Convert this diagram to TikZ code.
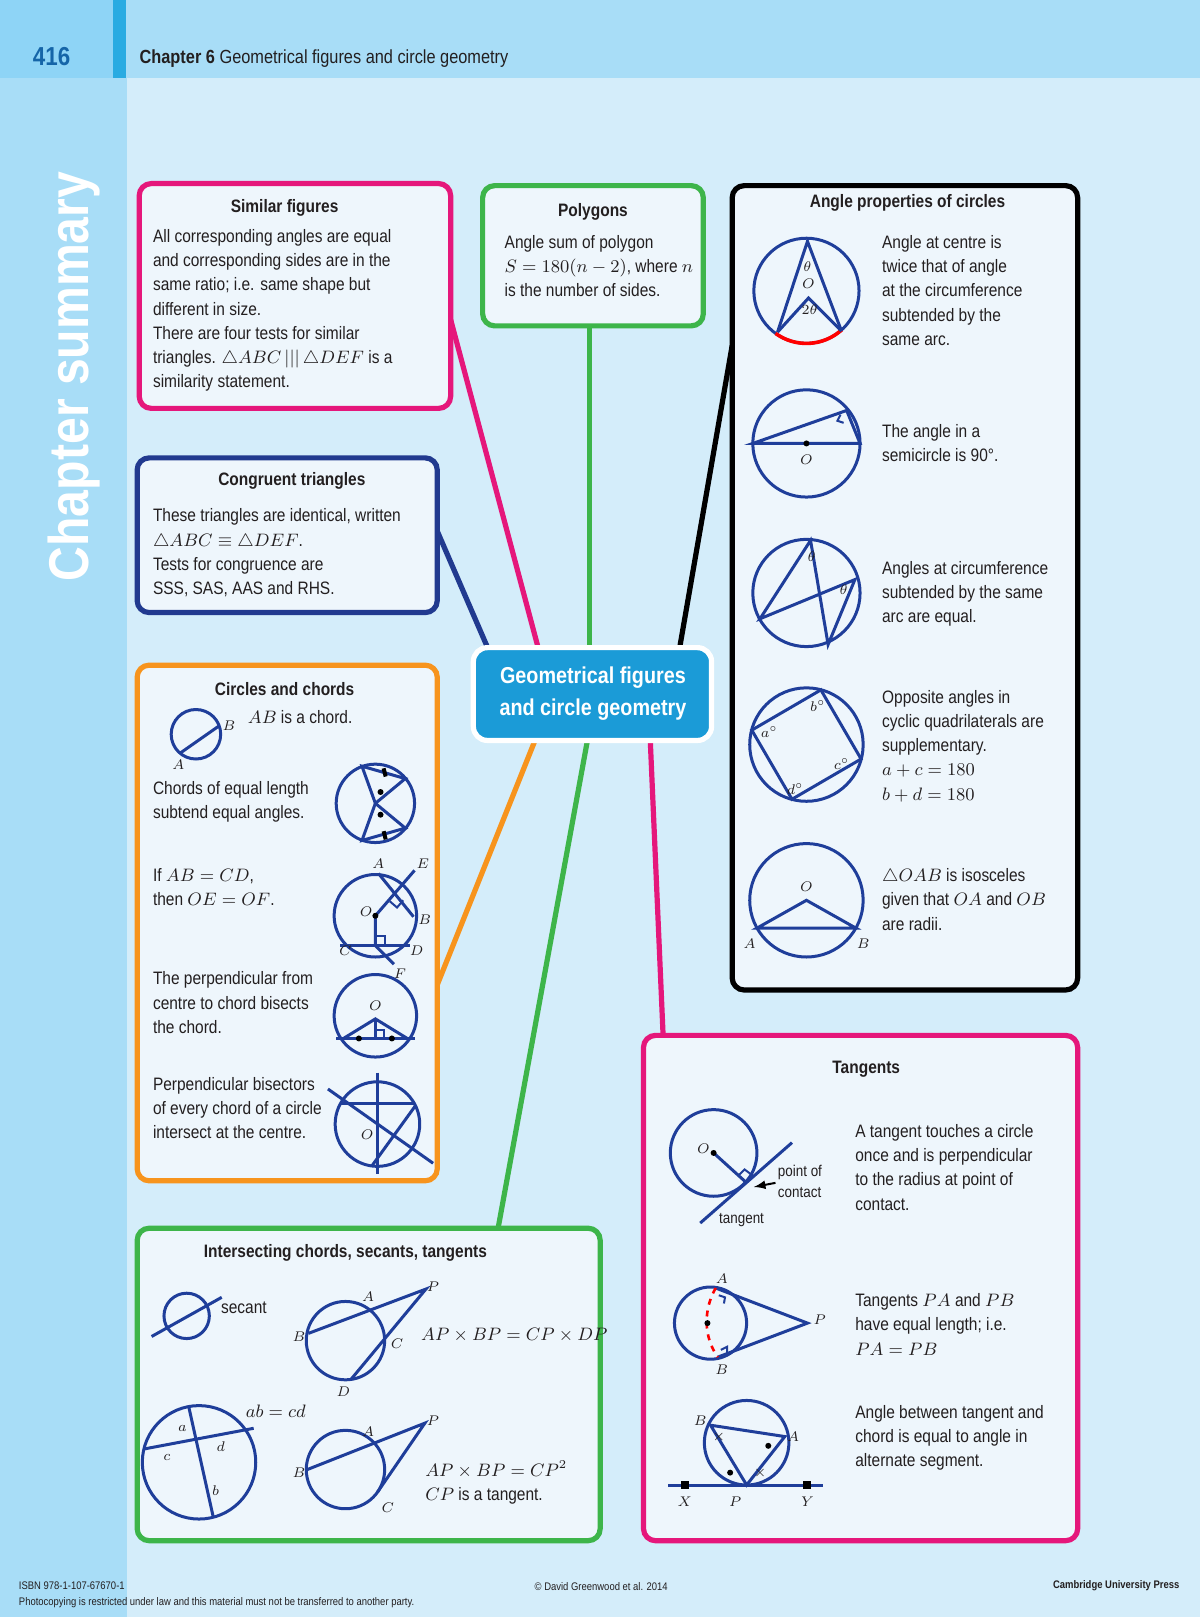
\documentclass[tikz,border=0pt]{standalone}
\usepackage{fontspec}
\setmainfont{Liberation Sans}[FakeStretch=0.86]
\usetikzlibrary{fit,calc}
\definecolor{bgc}{HTML}{D4EDFA}
\definecolor{strip}{HTML}{A8DDF7}
\definecolor{topblk}{HTML}{8ED4F6}
\definecolor{cyanl}{HTML}{29ABE2}
\definecolor{boxfill}{HTML}{EEF6FC}
\definecolor{pinkc}{HTML}{E5177B}
\definecolor{greenc}{HTML}{3DB54A}
\definecolor{orangec}{HTML}{F7941D}
\definecolor{navyc}{HTML}{213A8F}
\definecolor{geo}{HTML}{1F3E9A}
\definecolor{cenc}{HTML}{1B9BD7}
\definecolor{txtc}{HTML}{231F20}
\definecolor{numc}{HTML}{1565A8}
\newcommand\myfs{\fontsize{9}{12.1}\selectfont}
\newcommand\mylab{\fontsize{7}{8}\selectfont}
\begin{document}
\begin{tikzpicture}[x=0.5155pt,y=-0.5155pt,
  box/.style={draw=#1, line width=2.6pt, rounded corners=6pt, fill=boxfill, inner sep=0pt},
  conn/.style={draw=#1, line width=2.6pt},
  txt/.style={anchor=north west, inner sep=0pt, align=left, font=\myfs, text=txtc},
  ttl/.style={inner sep=0pt, font=\myfs\bfseries, text=txtc},
  g/.style={draw=geo, line width=1.5pt},
  lb/.style={inner sep=0pt, font=\mylab, text=txtc},
  dot/.style={fill=black, circle, inner sep=0pt, minimum size=3pt}]
\useasboundingbox (0,0) rectangle (1164,1568);
\fill[bgc] (0,0) rectangle (1164,1568);
\fill[strip] (0,0) rectangle (123,1568);
\fill[strip] (0,0) rectangle (1164,76);
\fill[topblk] (0,0) rectangle (110,76);
\fill[cyanl] (110,0) rectangle (122,76);
\node[font=\fontsize{13}{13}\selectfont\bfseries, text=numc] (pg) at (50,55) {416};
\node[anchor=west, inner sep=0, font=\fontsize{9.5}{10}\selectfont, text=txtc] (hd) at (135,57) {\textbf{Chapter 6} Geometrical figures and circle geometry};
\node[rotate=90, font=\fontsize{28}{28}\selectfont\bfseries, text=white] (cs) at (72,365) {Chapter summary};

% connector end points
\coordinate (e1) at (437,310); \coordinate (f1) at (525,640);
\coordinate (e2) at (572,316); \coordinate (f2) at (572,640);
\coordinate (e3) at (710,335); \coordinate (f3) at (657,640);
\coordinate (e4) at (424,515); \coordinate (f4) at (478,640);
\coordinate (e5) at (424,955); \coordinate (f5) at (524,705);
\coordinate (e6) at (483,1191); \coordinate (f6) at (572,705);
\coordinate (e7) at (643,1004); \coordinate (f7) at (630,705);
\draw[conn=pinkc] (e1) -- (f1);
\draw[conn=greenc] (e2) -- (f2);
\draw[conn=black] (e3) -- (f3);
\draw[conn=navyc] (e4) -- (f4);
\draw[conn=orangec] (e5) -- (f5);
\draw[conn=greenc] (e6) -- (f6);
\draw[conn=pinkc] (e7) -- (f7);

% boxes
\node[box=pinkc, fit={(135,178) (437,396)}] (sim) {};
\node[box=greenc, fit={(468,180) (682,316)}] (pol) {};
\node[box=black, fit={(710,180) (1045,960)}] (ang) {};
\node[box=navyc, fit={(133,444) (424,594)}] (con) {};
\node[box=orangec, fit={(133,645) (424,1145)}] (cir) {};
\node[box=greenc, fit={(133,1191) (582,1494)}] (ins) {};
\node[box=pinkc, fit={(624,1004) (1045,1494)}] (tan) {};
\node[draw=white, line width=2.6pt, rounded corners=7pt, fill=cenc, inner sep=0pt, fit={(459,628) (690,718)}] (cen) {};
\node[align=center, font=\fontsize{11.5}{16}\selectfont\bfseries, text=white] (cent) at (575,673) {Geometrical figures\\and circle geometry};

% Similar figures
\node[ttl] (t1) at (276,202) {Similar figures};
\node[txt] (s1) at (148,222) {All corresponding angles are equal\\and corresponding sides are in the\\same ratio; i.e. same shape but\\different in size.\\There are four tests for similar\\triangles. $\triangle ABC\,|||\,\triangle DEF$ is a\\similarity statement.};

% Polygons
\node[ttl] (t2) at (575,205) {Polygons};
\node[txt] (p1) at (489,228) {Angle sum of polygon\\$S = 180(n-2)$, where $n$\\is the number of sides.};

% Congruent
\node[ttl] (t3) at (283,466) {Congruent triangles};
\node[txt] (c1) at (148,493) {These triangles are identical, written\\$\triangle ABC \equiv \triangle DEF$.\\Tests for congruence are\\SSS, SAS, AAS and RHS.};

% Angle properties
\node[ttl] (t4) at (880,197) {Angle properties of circles};
\node[txt] (a1) at (855,228) {Angle at centre is\\twice that of angle\\at the circumference\\subtended by the\\same arc.};
\node[txt] (a2) at (855,411) {The angle in a\\semicircle is 90°.};
\node[txt] (a3) at (855,544) {Angles at circumference\\subtended by the same\\arc are equal.};
\node[txt] (a4) at (855,669) {Opposite angles in\\cyclic quadrilaterals are\\supplementary.\\$a+c=180$\\$b+d=180$};
\node[txt] (a5) at (855,842) {$\triangle OAB$ is isosceles\\given that $OA$ and $OB$\\are radii.};
% diagram 1
\draw[g] (782,282) circle (51);
\draw[draw=red, line width=1.8pt] (782,282) ++(48:51) arc (48:126:51);
\draw[g] (754,322) -- (783,234) -- (816,321);
\draw[g] (754,322) -- (784,289) -- (816,321);
\node[lb] (th1) at (783,259) {$\theta$};
\node[lb] (o1) at (784,275) {$O$};
\node[lb] (th2) at (785,300) {$2\theta$};
% diagram 2
\draw[g] (782,430) circle (52);
\draw[g] (730,430) -- (834,430) -- (821,398) -- cycle;
\draw[g, line width=1pt] (815,402) -- (812,408) -- (818,410);
\node[dot] (d2) at (782,430) {};
\node[lb] (o2) at (782,446) {$O$};
% diagram 3
\draw[g] (782,575) circle (52);
\draw[g] (737,600) -- (786,524) -- (803,625) -- (829,562) -- cycle;
\node[lb] (th3) at (787,540) {$\theta$};
\node[lb] (th4) at (818,572) {$\theta$};
% diagram 4
\draw[g] (782,722) circle (55);
\draw[g] (796,669) -- (729,708) -- (768,775) -- (835,736) -- cycle;
\node[lb] (qa) at (746,710) {$a^\circ$};
\node[lb] (qb) at (793,685) {$b^\circ$};
\node[lb] (qc) at (816,741) {$c^\circ$};
\node[lb] (qd) at (771,765) {$d^\circ$};
% diagram 5
\draw[g] (782,873) circle (55);
\draw[g] (734,900) -- (782,873) -- (830,900) -- cycle;
\node[lb] (o5) at (782,860) {$O$};
\node[lb] (A5) at (727,915) {$A$};
\node[lb] (B5) at (837,915) {$B$};

% Circles and chords
\node[ttl] (t5) at (276,668) {Circles and chords};
\draw[g] (190,712) circle (24);
\draw[g] (190,712) ++(130:24) -- ($(190,712)+(-20:24)$);
\node[lb] (Bc) at (222,704) {$B$};
\node[lb] (Ac) at (173,742) {$A$};
\node[txt] (cc1) at (240,689) {$AB$ is a chord.};
\node[txt] (cc2) at (148,757) {Chords of equal length\\subtend equal angles.};
\draw[g] (364,779) circle (38);
\draw[g] (351,743) -- (364,779) -- (393,755) -- cycle;
\draw[g] (393,803) -- (364,779) -- (351,815) -- cycle;
\draw[line width=2pt] (372,745) -- (374,753) (372,806) -- (374,814);
\node[dot] (c2a) at (369,768) {}; \node[dot] (c2b) at (369,790) {};
\node[txt] (cc3) at (148,842) {If $AB = CD$,\\then $OE = OF$.};
\draw[g] (364,888) circle (40);
\draw[g] (367,847) -- (401,889);
\draw[g] (330,917) -- (398,917);
\draw[g] (364,888) -- (402,844);
\draw[g] (364,888) -- (364,917) -- (382,935);
\draw[g,line width=1pt] (364,908) -- (373,908) -- (373,917);
\draw[g,line width=1pt] (378,874) -- (385,880) -- (391,873);
\node[dot] (O3) at (364,888) {};
\node[lb] (O3l) at (355,884) {$O$};
\node[lb] (A3) at (367,838) {$A$};
\node[lb] (E3) at (410,838) {$E$};
\node[lb] (B3) at (412,892) {$B$};
\node[lb] (C3) at (335,922) {$C$};
\node[lb] (D3) at (404,922) {$D$};
\node[lb] (F3) at (388,944) {$F$};
\node[txt] (cc4) at (148,942) {The perpendicular from\\centre to chord bisects\\the chord.};
\draw[g] (364,985) circle (40);
\draw[g] (326,1007) -- (402,1007);
\draw[g] (333,1007) -- (364,988) -- (395,1007);
\draw[g] (364,988) -- (364,1007);
\draw[g,line width=1pt] (364,999) -- (372,999) -- (372,1007);
\node[lb] (O4) at (364,975) {$O$};
\node[dot] (m4a) at (348,1007) {}; \node[dot] (m4b) at (380,1007) {};
\node[txt] (cc5) at (148,1044) {Perpendicular bisectors\\of every chord of a circle\\intersect at the centre.};
\draw[g] (366,1090) circle (41);
\draw[g] (330,1070) -- (402,1070);
\draw[g] (366,1040) -- (366,1138);
\draw[g] (318,1056) -- (420,1128);
\draw[g] (361,1130) -- (403,1072);
\node[lb] (O5) at (356,1100) {$O$};

% Intersecting chords
\node[ttl] (t6) at (335,1215) {Intersecting chords, secants, tangents};
\draw[g] (181,1276) circle (22);
\draw[g] (147,1296) -- (215,1258);
\node[txt] (sec) at (214,1262) {secant};
\draw[g] (335,1300) circle (38);
\draw[g] (299,1293) -- (413,1250) -- (340,1338);
\node[lb] (A6) at (357,1257) {$A$};
\node[lb] (B6) at (290,1296) {$B$};
\node[lb] (C6) at (385,1303) {$C$};
\node[lb] (D6) at (333,1350) {$D$};
\node[lb] (P6) at (420,1248) {$P$};
\node[txt] (eq1) at (408,1288) {$AP\times BP = CP\times DP$};
\draw[g] (193,1418) circle (55);
\draw[g] (140,1405) -- (246,1385);
\draw[g] (183,1364) -- (207,1472);
\node[lb] (la) at (177,1385) {$a$};
\node[lb] (ld) at (214,1403) {$d$};
\node[lb] (lc) at (162,1413) {$c$};
\node[lb] (lb) at (209,1445) {$b$};
\node[txt] (eq2) at (238,1362) {$ab = cd$};
\draw[g] (335,1425) circle (38);
\draw[g] (298,1425) -- (412,1380) -- (366,1447);
\node[lb] (A7) at (357,1388) {$A$};
\node[lb] (B7) at (290,1428) {$B$};
\node[lb] (C7) at (376,1462) {$C$};
\node[lb] (P7) at (420,1378) {$P$};
\node[txt] (eq3) at (412,1416) {$AP\times BP = CP^2$\\$CP$ is a tangent.};

% Tangents
\node[ttl] (t7) at (840,1037) {Tangents};
\draw[g] (692,1118) circle (42);
\draw[g] (692,1118) -- (724,1147);
\draw[g] (679,1186) -- (768,1108);
\draw[g,line width=1pt] (716,1140) -- (722,1134) -- (730,1140);
\node[dot] (Ot) at (692,1118) {};
\node[lb] (Otl) at (682,1114) {$O$};
\draw[-latex, line width=1pt] (752,1147) -- (731,1151);
\node[anchor=north west, inner sep=0, align=left, font=\fontsize{7.8}{10.5}\selectfont, text=txtc] (poc) at (754,1129) {point of\\contact};
\node[anchor=north west, inner sep=0, font=\fontsize{7.8}{10}\selectfont, text=txtc] (tg) at (697,1176) {tangent};
\node[txt] (tt1) at (829,1090) {A tangent touches a circle\\once and is perpendicular\\to the radius at point of\\contact.};
\draw[g] (689,1283) circle (35);
\draw[g] (694,1249) -- (783,1283) -- (696,1316);
\draw[red, dashed, line width=1.3pt] (694,1249) .. controls (682,1270) and (682,1296) .. (696,1316);
\node[dot] (Ct) at (686,1283) {};
\draw[g,line width=1pt] (697,1256) -- (703,1258) -- (702,1264);
\draw[g,line width=1pt] (699,1309) -- (705,1306) -- (705,1312);
\node[lb] (At) at (700,1240) {$A$};
\node[lb] (Bt) at (700,1328) {$B$};
\node[lb] (Pt) at (795,1280) {$P$};
\node[txt] (tt2) at (829,1254) {Tangents $PA$ and $PB$\\have equal length; i.e.\\$PA = PB$};
\draw[g] (724,1399) circle (41);
\draw[g] (648,1440) -- (798,1440);
\draw[g] (724,1440) -- (689,1382) -- (761,1393) -- cycle;
\node[dot, rectangle, minimum size=4pt] (Xd) at (664,1440) {};
\node[dot, rectangle, minimum size=4pt] (Yd) at (783,1440) {};
\node[lb] (Bq) at (679,1378) {$B$};
\node[lb] (Aq) at (769,1393) {$A$};
\node[lb] (Xq) at (664,1456) {$X$};
\node[lb] (Pq) at (713,1456) {$P$};
\node[lb] (Yq) at (783,1456) {$Y$};
\node[lb] (x1) at (697,1393) {$\times$};
\node[lb] (x2) at (737,1428) {$\times$};
\node[dot] (b1) at (745,1402) {}; \node[dot] (b2) at (708,1428) {};
\node[txt] (tt3) at (829,1362) {Angle between tangent and\\chord is equal to angle in\\alternate segment.};

% footer
\node[anchor=west, inner sep=0, font=\fontsize{5.5}{6}\selectfont, text=txtc] (f1t) at (18,1538) {ISBN 978-1-107-67670-1};
\node[inner sep=0, font=\fontsize{5.5}{6}\selectfont, text=txtc] (f2t) at (583,1538) {© David Greenwood et al. 2014};
\node[anchor=east, inner sep=0, font=\fontsize{5.5}{6}\selectfont\bfseries, text=txtc] (f3t) at (1144,1538) {Cambridge University Press};
\node[anchor=west, inner sep=0, font=\fontsize{5.5}{6}\selectfont, text=txtc] (f4t) at (18,1554) {Photocopying is restricted under law and this material must not be transferred to another party.};
\end{tikzpicture}
\end{document}
